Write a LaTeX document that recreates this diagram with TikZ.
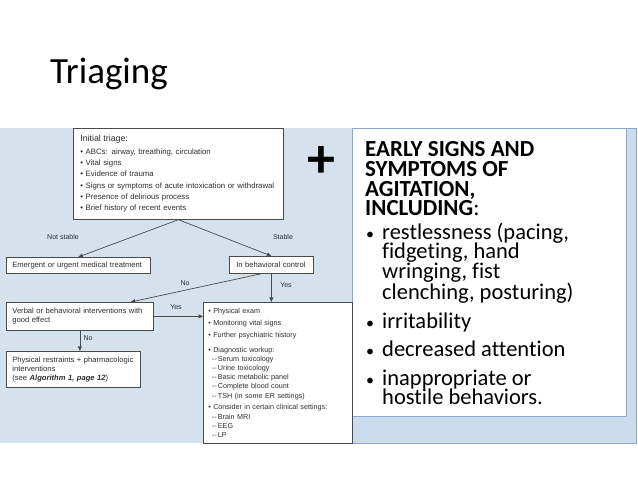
\documentclass[tikz,border=0pt]{standalone}
\usepackage{fontspec}
\setmainfont{Carlito}[Ligatures={NoCommon,NoContextual}]
\newfontfamily\chartfont{Liberation Sans}
\usetikzlibrary{arrows.meta,calc}
\definecolor{mypanel}{HTML}{D5E1ED}
\definecolor{myframe}{HTML}{CBDCEF}
\definecolor{myedge}{HTML}{8EA8C8}
\definecolor{myline}{HTML}{4A4A4A}
\definecolor{mytext}{HTML}{2E2E2E}
\newcommand{\bigdot}{\llap{{\fontsize{16}{16}\selectfont\textbullet}\hspace{8pt}}}

\begin{document}
\begin{tikzpicture}[x=1pt,y=-1pt,
  box/.style={draw=myline,fill=white,line width=0.7pt,anchor=north west,
              inner xsep=6pt,inner ysep=0pt,align=left,text=mytext,
              font=\chartfont\fontsize{7.6}{9}\selectfont},
  lbl/.style={text=mytext,inner sep=0pt,font=\chartfont\fontsize{7}{8}\selectfont},
  arr/.style={-{Triangle[length=4.5pt,width=3.8pt]},line width=0.7pt,color=myline},
  item/.style={anchor=base west,inner sep=0pt,align=left,
               font=\fontsize{22.5}{19.8}\selectfont}]
\useasboundingbox (0,0) rectangle (638,478);
% panels
\fill[mypanel] (0,128) rectangle (352,443);
\draw[myedge,fill=myframe] (352,128) rectangle (636,443);
\draw[myedge,fill=white] (352,128) rectangle (626,416);

\node[anchor=base west,inner sep=0pt,font=\fontsize{37}{37}\selectfont] (title) at (50,84) {Triaging};

% flowchart
\node[box,inner xsep=7pt,text width=196pt,minimum height=91pt,
      font=\chartfont\fontsize{7.8}{11.3}\selectfont] (init) at (73,128)
  {{\fontsize{8.8}{10}\selectfont Initial triage:}\\[1.5pt]
   \textbullet\ ABCs: airway, breathing, circulation\\
   \textbullet\ Vital signs\\
   \textbullet\ Evidence of trauma\\
   \textbullet\ Signs or symptoms of acute intoxication or withdrawal\\
   \textbullet\ Presence of delirious process\\
   \textbullet\ Brief history of recent events};
\node[box,text width=132pt,minimum height=16pt] (emerg) at (6,257) {Emergent or urgent medical treatment};
\node[box,inner xsep=7pt,text width=70pt,minimum height=17pt] (behav) at (229,256) {In behavioral control};
\node[box,text width=135pt,minimum height=28pt] (verbal) at (6,302)
  {Verbal or behavioral interventions with\\good effect};
\node[box,text width=122pt,minimum height=36pt,
      font=\chartfont\fontsize{7.6}{8.7}\selectfont] (restr) at (6,351)
  {Physical restraints + pharmacologic\\interventions\\(see \textbf{\textit{Algorithm 1, page 12}})};
\node[box,inner xsep=5pt,text width=139pt,minimum height=141pt,
      font=\chartfont\fontsize{7.2}{9.2}\selectfont] (exam) at (203,302)
  {\textbullet\ Physical exam\\[2.3pt]
   \textbullet\ Monitoring vital signs\\[2.8pt]
   \textbullet\ Further psychiatric history\\[5.8pt]
   \textbullet\ Diagnostic workup:\\
   \ \,--\,Serum toxicology\\
   \ \,--\,Urine toxicology\\
   \ \,--\,Basic metabolic panel\\
   \ \,--\,Complete blood count\\
   \ \,--\,TSH (in some ER settings)\\[1.8pt]
   \textbullet\ Consider in certain clinical settings:\\[0.8pt]
   \ \,--\,Brain MRI\\
   \ \,--\,EEG\\
   \ \,--\,LP};

\draw[arr] (init.south) -- (emerg.north);
\draw[arr] (init.south) -- (behav.north);
\draw[arr] ($(behav.south)+(-10,0)$) -- ($(verbal.north east)+(-23,0)$);
\draw[arr] (behav.south) -- (behav.south |- exam.north);
\draw[arr] (verbal.east) -- (verbal.east -| exam.west);
\draw[arr] (verbal.south) -- (verbal.south |- restr.north);

\node[lbl] (notstable) at (63,237) {Not stable};
\node[lbl] (stable) at (283,237) {Stable};
\node[lbl] (noA) at (185,283) {No};
\node[lbl] (yesA) at (286,285) {Yes};
\node[lbl] (yesB) at (176,307) {Yes};
\node[lbl] (noB) at (88,338) {No};

\node[inner sep=0pt,font=\bfseries\fontsize{56}{56}\selectfont] (plus) at (321,162) {+};

% agitation list (anchors sit on the last line)
\node[anchor=base west,inner sep=0pt,align=left,
      font=\bfseries\fontsize{23}{19.8}\selectfont] (head) at (365,216)
  {EARLY SIGNS AND\\SYMPTOMS OF\\AGITATION,\\INCLUDING\textmd{:}};
\node[item] (restless) at (382,300)
  {\bigdot restlessness (pacing,\\fidgeting, hand\\wringing, fist\\clenching, posturing)};
\node[item] (irrit) at (382,329) {\bigdot irritability};
\node[item] (attn) at (382,357) {\bigdot decreased attention};
\node[item] (hostile) at (382,405) {\bigdot inappropriate or\\hostile behaviors.};
\end{tikzpicture}
\end{document}
